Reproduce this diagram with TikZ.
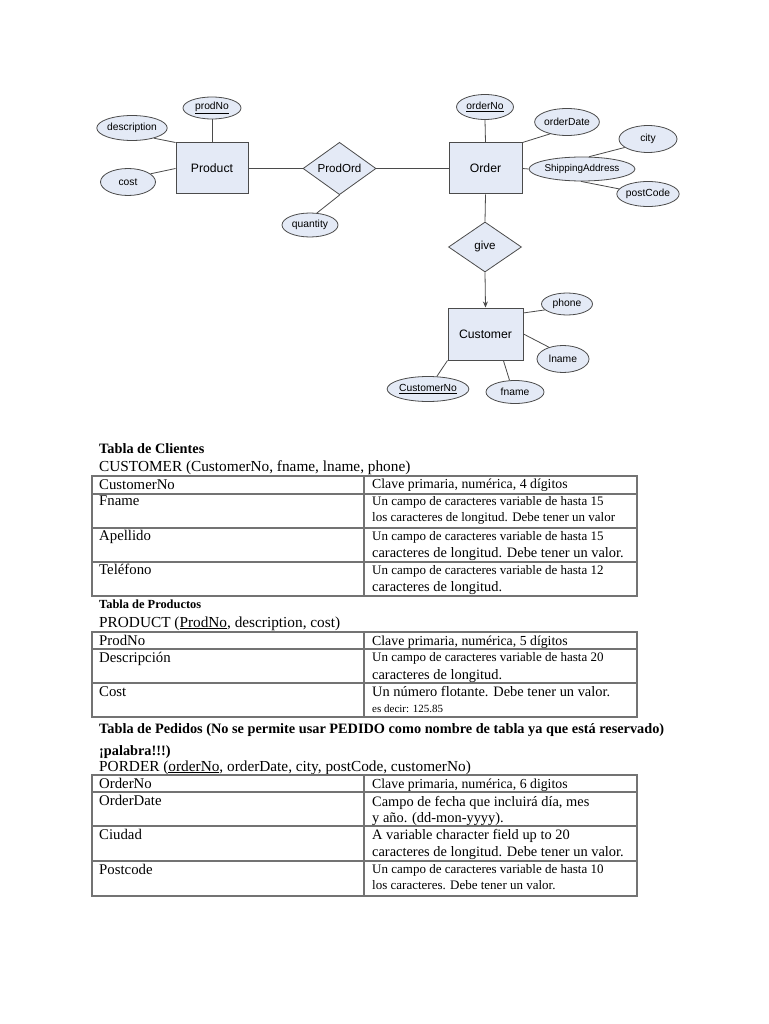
\documentclass[tikz,border=0pt]{standalone}
\usepackage{fontspec}
\setmainfont{Liberation Serif}
\newfontfamily\arialf{Liberation Sans}
\usetikzlibrary{shapes.geometric,arrows.meta}
\definecolor{erfill}{RGB}{228,234,246}
\definecolor{erline}{RGB}{75,75,75}
\definecolor{tline}{RGB}{115,115,115}
\begin{document}
\begin{tikzpicture}[x=1pt,y=-1pt,
  entity/.style={draw=erline, fill=erfill, line width=1pt, minimum width=72pt, minimum height=51pt, inner sep=0pt, font=\arialf\fontsize{12.2}{14}\selectfont},
  rel/.style={diamond, draw=erline, fill=erfill, line width=0.8pt, minimum width=73pt, minimum height=51pt, inner sep=0pt, font=\arialf\fontsize{11.6}{13}\selectfont},
  attr/.style={ellipse, draw=erline, fill=erfill, line width=0.8pt, inner sep=0pt, font=\arialf\fontsize{10.3}{11}\selectfont},
  conn/.style={draw=erline, line width=0.8pt},
  tbl/.style={draw=tline, line width=1.2pt},
  lc/.style={anchor=base west, inner sep=0pt, font=\fontsize{14.8}{17}\selectfont},
  hd/.style={anchor=base west, inner sep=0pt, font=\fontsize{15.3}{18}\selectfont},
  ttl/.style={anchor=base west, inner sep=0pt, font=\bfseries\fontsize{14.3}{17}\selectfont},
  rsm/.style={anchor=base west, inner sep=0pt, font=\fontsize{13}{15}\selectfont},
  rmd/.style={anchor=base west, inner sep=0pt, font=\fontsize{13.8}{16}\selectfont},
  rlg/.style={anchor=base west, inner sep=0pt, font=\fontsize{14.4}{17}\selectfont},
  rxs/.style={anchor=base west, inner sep=0pt, font=\fontsize{11}{13}\selectfont}
]
\useasboundingbox (0,0) rectangle (768,1024);
\fill[white] (0,0) rectangle (768,1024);

% ---------- ER diagram ----------
\node[entity] (product) at (212,168.5) {Product};
\node[attr, minimum width=58pt, minimum height=22pt] (prodNo) at (212,108) {\underline{prodNo}};
\node[attr, minimum width=59pt, minimum height=25pt] (desc) at (132,128) {description};
\node[attr, minimum width=55pt, minimum height=27pt] (cost) at (128,182) {cost};
\node[rel] (prodord) at (339.5,168.5) {ProdOrd};
\node[attr, minimum width=56pt, minimum height=24pt] (quantity) at (310,225) {quantity};
\node[entity, minimum width=73pt] (order) at (485.5,168.5) {Order};
\node[attr, minimum width=57pt, minimum height=25pt] (orderNo) at (485,107) {\underline{orderNo}};
\node[attr, minimum width=58pt, minimum height=27pt] (orderDate) at (567,122) {orderDate};
\node[attr, minimum width=84pt, minimum height=24pt, font=\arialf\fontsize{9.9}{11}\selectfont] (ship) at (582,169) {ShippingAddress};
\node[attr, minimum width=58pt, minimum height=27pt] (city) at (648,139) {city};
\node[attr, minimum width=59pt, minimum height=25pt] (postCode) at (648,194) {postCode};
\node[rel, minimum height=50pt] (give) at (485,247) {give};
\node[entity, minimum width=75pt, minimum height=52pt] (customer) at (485.5,334) {Customer};
\node[attr, minimum width=51pt, minimum height=22pt] (phone) at (567,304) {phone};
\node[attr, minimum width=52pt, minimum height=27pt] (lname) at (563,359) {lname};
\node[attr, minimum width=58pt, minimum height=23pt] (fname) at (515,392) {fname};
\node[attr, minimum width=67pt, minimum height=25pt] (custNo) at (428,389) {\underline{CustomerNo}};

\draw[conn] (prodNo.south) -- (product.north);
\draw[conn] (desc.-25) -- (product.north west);
\draw[conn] (cost.20) -- (product.west);
\draw[conn] (product.east) -- (prodord.west);
\draw[conn] (prodord.east) -- (order.west);
\draw[conn] (prodord.south) -- (quantity.60);
\draw[conn] (orderNo.south) -- (order.north);
\draw[conn] (orderDate.215) -- (order.north east);
\draw[conn] (order.east) -- (ship.west);
\draw[conn] (ship.60) -- (city.200);
\draw[conn] (ship.-95) -- (postCode.170);
\draw[conn] (order.south) -- (give.north);
\draw[conn, -{Stealth[length=6pt,width=5pt]}] (give.south) -- (customer.north);
\draw[conn] (customer.29) -- (phone.195);
\draw[conn] (customer.east) -- (lname.140);
\draw[conn] (customer.-56) -- (fname.115);
\draw[conn] (customer.south west) -- (custNo.55);

% ---------- Tabla de Clientes ----------
\node[ttl] (t1) at (99,453) {Tabla de Clientes};
\node[hd] (t1h) at (99,471) {CUSTOMER (CustomerNo, fname, lname, phone)};
\draw[tbl] (92,476) rectangle (637,596);
\draw[tbl] (364,476) -- (364,596);
\draw[tbl] (92,494) -- (637,494);
\draw[tbl] (92,528) -- (637,528);
\draw[tbl] (92,562) -- (637,562);
\node[lc] (c1a) at (99,489) {CustomerNo};
\node[rmd] (c1b) at (372,488) {Clave primaria, numérica, 4 dígitos};
\node[lc] (c2a) at (99,505) {Fname};
\node[rsm] (c2b) at (372,505) {Un campo de caracteres variable de hasta 15};
\node[rsm] (c2c) at (372,521) {los caracteres de longitud. Debe tener un valor};
\node[lc] (c3a) at (99,540) {Apellido};
\node[rsm] (c3b) at (372,540) {Un campo de caracteres variable de hasta 15};
\node[rlg] (c3c) at (372,557) {caracteres de longitud. Debe tener un valor.};
\node[lc] (c4a) at (99,574) {Teléfono};
\node[rsm] (c4b) at (372,574) {Un campo de caracteres variable de hasta 12};
\node[rlg] (c4c) at (372,591) {caracteres de longitud.};

% ---------- Tabla de Productos ----------
\node[anchor=base west, inner sep=0pt, font=\bfseries\fontsize{12.4}{15}\selectfont] (t2) at (99,608) {Tabla de Productos};
\node[hd] (t2h) at (99,627) {PRODUCT (\underline{ProdNo}, description, cost)};
\draw[tbl] (92,632) rectangle (637,717);
\draw[tbl] (364,632) -- (364,717);
\draw[tbl] (92,649) -- (637,649);
\draw[tbl] (92,683) -- (637,683);
\node[lc] (p1a) at (99,645) {ProdNo};
\node[rmd] (p1b) at (372,645) {Clave primaria, numérica, 5 dígitos};
\node[lc] (p2a) at (99,662) {Descripción};
\node[rsm] (p2b) at (372,661) {Un campo de caracteres variable de hasta 20};
\node[rlg] (p2c) at (372,679) {caracteres de longitud.};
\node[lc] (p3a) at (99,696) {Cost};
\node[rlg] (p3b) at (372,696) {Un número flotante. Debe tener un valor.};
\node[rxs] (p3c) at (372,712) {es decir: 125.85};

% ---------- Tabla de Pedidos ----------
\node[ttl] (t3) at (99,733) {Tabla de Pedidos (No se permite usar PEDIDO como nombre de tabla ya que está reservado)};
\node[ttl] (t3b) at (99,755) {¡palabra!!!)};
\node[hd] (t3h) at (99,771) {PORDER (\underline{orderNo}, orderDate, city, postCode, customerNo)};
\draw[tbl] (92,775) rectangle (637,896);
\draw[tbl] (364,775) -- (364,896);
\draw[tbl] (92,792) -- (637,792);
\draw[tbl] (92,826) -- (637,826);
\draw[tbl] (92,861) -- (637,861);
\node[lc] (o1a) at (99,788) {OrderNo};
\node[rmd] (o1b) at (372,788) {Clave primaria, numérica, 6 digitos};
\node[lc] (o2a) at (99,805) {OrderDate};
\node[rlg] (o2b) at (372,806) {Campo de fecha que incluirá día, mes};
\node[rlg] (o2c) at (372,822) {y año. (dd-mon-yyyy).};
\node[lc] (o3a) at (99,839) {Ciudad};
\node[rlg] (o3b) at (372,839) {A variable character field up to 20};
\node[rlg] (o3c) at (372,856) {caracteres de longitud. Debe tener un valor.};
\node[lc] (o4a) at (99,874) {Postcode};
\node[rsm] (o4b) at (372,873) {Un campo de caracteres variable de hasta 10};
\node[rsm] (o4c) at (372,889) {los caracteres. Debe tener un valor.};
\end{tikzpicture}
\end{document}
